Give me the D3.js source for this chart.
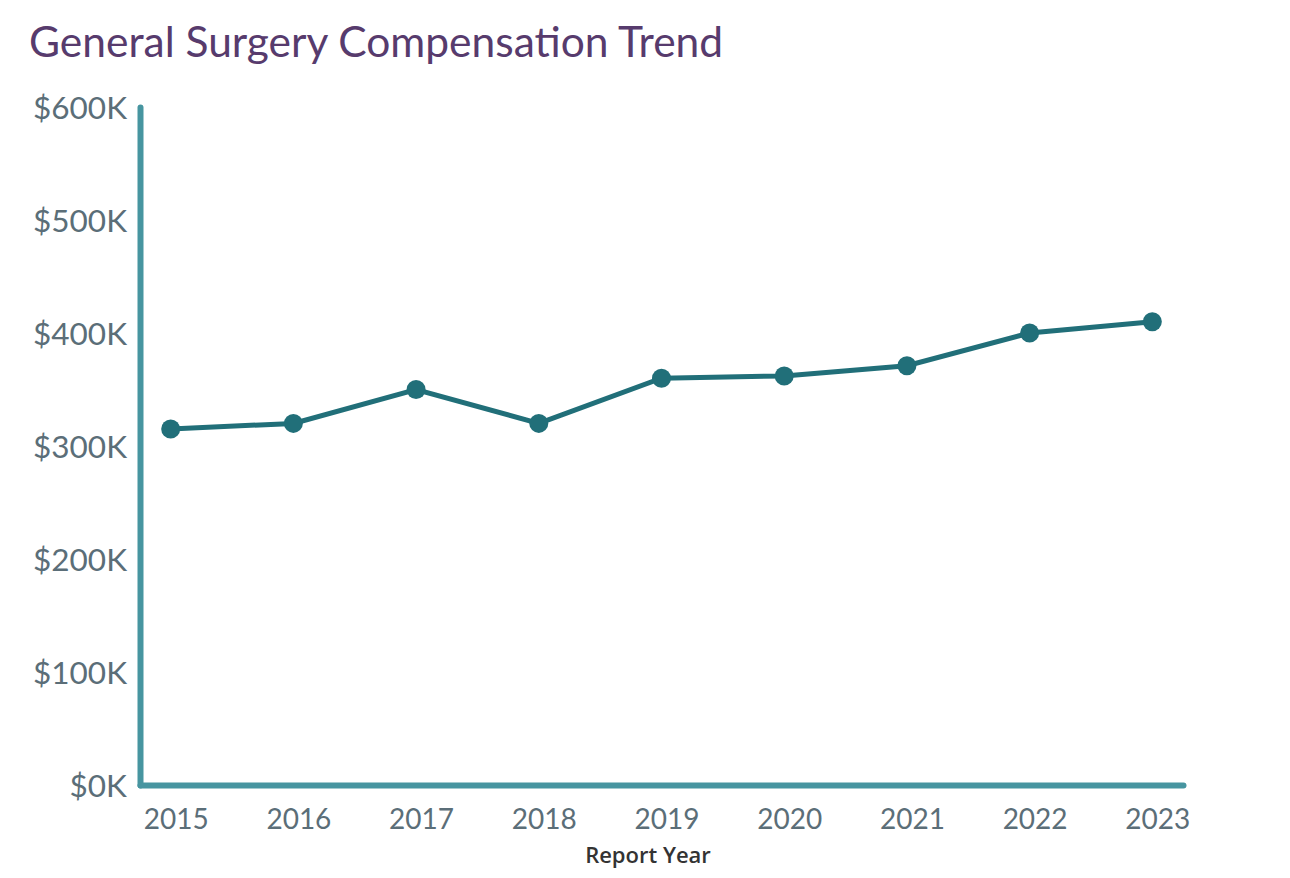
<!DOCTYPE html>
<html lang="en">
<head>
    <meta charset="UTF-8">
    <title>General Surgery Compensation Trend</title>
    <script src="https://d3js.org/d3.v7.min.js"></script>
    <style>
        body { margin: 0; background: #fff; }
        svg { display: block; }
        .title { font-family: Lato, sans-serif; font-size: 42.5px; fill: #573b6d; }
        .axis text { font-family: Lato, sans-serif; fill: #5b6e78; }
        .y-axis text { font-size: 31.5px; }
        .x-axis text { font-size: 28px; }
        .axis .domain { stroke: #4795a0; stroke-width: 6px; stroke-linecap: round; }
        .axis-title { font-family: "Open Sans", sans-serif; font-weight: 600; font-size: 22px; fill: #333; }
        .trend { fill: none; stroke: #216f79; stroke-width: 5px; }
        .dot { fill: #216f79; }
    </style>
</head>
<body>
    <svg id="chart" width="1290" height="878"></svg>

    <script>
        const years = ["2015", "2016", "2017", "2018", "2019", "2020", "2021", "2022", "2023"];
        const compensation = [315000, 320000, 350000, 320000, 360000, 362000, 371000, 400000, 410000];
        const yTicks = [0, 100000, 200000, 300000, 400000, 500000, 600000];

        const svg = d3.select("#chart");

        const x = d3.scalePoint()
            .domain(years)
            .range([140, 1183])
            .padding(0.25);

        const y = d3.scaleLinear()
            .domain([0, 600000])
            .range([785, 107]);

        svg.append("text")
            .attr("class", "title")
            .attr("x", 29)
            .attr("y", 57)
            .text("General Surgery Compensation Trend");

        // y axis
        const yAxis = svg.append("g")
            .attr("class", "axis y-axis")
            .attr("transform", "translate(140,0)")
            .call(d3.axisLeft(y)
                .tickValues(yTicks)
                .tickSize(0)
                .tickPadding(13)
                .tickFormat(d => "$" + (d / 1000) + "K"));
        yAxis.selectAll("text").attr("dy", "0.36em");

        // x axis
        const xAxis = svg.append("g")
            .attr("class", "axis x-axis")
            .attr("transform", "translate(0,785)")
            .call(d3.axisBottom(x)
                .tickSize(0)
                .tickPadding(24));
        xAxis.selectAll("text").attr("dx", 5);

        svg.append("text")
            .attr("class", "axis-title")
            .attr("x", 648)
            .attr("y", 863)
            .attr("text-anchor", "middle")
            .text("Report Year");

        const data = years.map((yr, i) => ({ year: yr, value: compensation[i] }));

        const line = d3.line()
            .x(d => x(d.year))
            .y(d => y(d.value));

        svg.append("path")
            .datum(data)
            .attr("class", "trend")
            .attr("d", line);

        svg.selectAll(".dot")
            .data(data)
            .enter().append("circle")
            .attr("class", "dot")
            .attr("cx", d => x(d.year))
            .attr("cy", d => y(d.value))
            .attr("r", 9.5);
    </script>
</body>
</html>
